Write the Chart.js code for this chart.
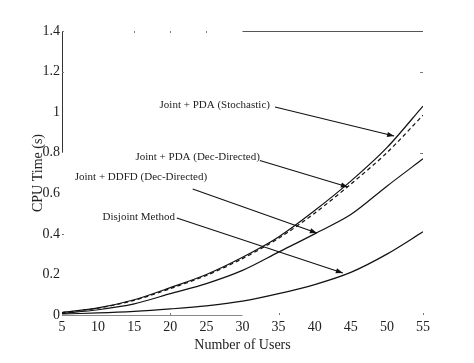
<!DOCTYPE html>
<html>
<head>
<meta charset="utf-8">
<script src="https://cdn.jsdelivr.net/npm/chart.js@4"></script>
<style>
html,body{margin:0;padding:0;background:#fff;}
#wrap{width:474px;height:363px;}
</style>
</head>
<body>
<div id="wrap"><canvas id="c" width="474" height="363"></canvas></div>
<script>
// ---- data ----
const users = [5, 10, 15, 20, 25, 30, 35, 40, 45, 50, 55];
const jointPdaStochastic = [0.012, 0.035, 0.075, 0.135, 0.200, 0.285, 0.385, 0.515, 0.660, 0.825, 1.030];
const jointPdaDecDirected = [0.012, 0.034, 0.072, 0.130, 0.195, 0.278, 0.378, 0.502, 0.645, 0.800, 0.985];
const jointDdfdDecDirected = [0.008, 0.026, 0.055, 0.105, 0.155, 0.220, 0.310, 0.400, 0.495, 0.635, 0.770];
const disjointMethod = [0.005, 0.010, 0.018, 0.030, 0.045, 0.068, 0.105, 0.150, 0.210, 0.300, 0.410];
const xTicks = [5, 10, 15, 20, 25, 30, 35, 40, 45, 50, 55];
const yTicks = [0, 0.2, 0.4, 0.6, 0.8, 1, 1.2, 1.4];
const seriesNames = ['Joint + PDA (Stochastic)', 'Joint + PDA (Dec-Directed)', 'Joint + DDFD (Dec-Directed)', 'Disjoint Method'];

const pts = arr => users.map((u, i) => ({x: u, y: arr[i]}));
const FONT = "'Liberation Serif', 'DejaVu Serif', serif";

// annotation layout (text anchor right edge + arrow start/tip in data coordinates)
const notes = [
  {text: seriesNames[0], tx: 33.8, ty: 1.035, ax: 34.5, ay: 1.025, bx: 51.0, by: 0.882},
  {text: seriesNames[1], tx: 32.4, ty: 0.779, ax: 32.4, ay: 0.762, bx: 44.6, by: 0.631},
  {text: seriesNames[2], tx: 25.1, ty: 0.680, ax: 23.1, ay: 0.621, bx: 40.3, by: 0.404},
  {text: seriesNames[3], tx: 20.65, ty: 0.483, ax: 20.9, ay: 0.478, bx: 43.9, by: 0.207}
];

const decor = {
  id: 'decor',
  afterDatasetsDraw(chart) {
    const {ctx, scales: {x, y}} = chart;
    ctx.save();
    // partial axis lines like the reference
    ctx.lineWidth = 1;
    ctx.strokeStyle = '#333';
    ctx.beginPath();
    ctx.moveTo(x.getPixelForValue(5) + 0.5, y.getPixelForValue(1.4));
    ctx.lineTo(x.getPixelForValue(5) + 0.5, y.getPixelForValue(0.8));
    ctx.stroke();
    ctx.strokeStyle = '#888';
    ctx.beginPath();
    ctx.moveTo(x.getPixelForValue(5), Math.round(y.getPixelForValue(0)) + 0.5);
    ctx.lineTo(x.getPixelForValue(30), Math.round(y.getPixelForValue(0)) + 0.5);
    ctx.stroke();
    ctx.strokeStyle = '#555';
    ctx.beginPath();
    ctx.moveTo(x.getPixelForValue(30), Math.round(y.getPixelForValue(1.4)) + 0.5);
    ctx.lineTo(x.getPixelForValue(55), Math.round(y.getPixelForValue(1.4)) + 0.5);
    ctx.stroke();
    // faint tick marks
    ctx.strokeStyle = '#777';
    [1.2, 0.8].forEach(v => {
      const py = Math.round(y.getPixelForValue(v)) + 0.5;
      const px = x.getPixelForValue(55);
      ctx.beginPath(); ctx.moveTo(px - 3, py); ctx.lineTo(px, py); ctx.stroke();
    });
    [1.4, 1.2, 0.4].forEach(v => {
      const py = Math.round(y.getPixelForValue(v)) + 0.5;
      const px = x.getPixelForValue(5);
      ctx.beginPath(); ctx.moveTo(px, py); ctx.lineTo(px + 2, py); ctx.stroke();
    });
    [15, 20, 25].forEach(v => {
      const px = Math.round(x.getPixelForValue(v)) + 0.5;
      const py = y.getPixelForValue(1.4);
      ctx.beginPath(); ctx.moveTo(px, py); ctx.lineTo(px, py + 2); ctx.stroke();
    });
    [20, 35, 55].forEach(v => {
      const px = Math.round(x.getPixelForValue(v)) + 0.5;
      const py = y.getPixelForValue(0);
      ctx.beginPath(); ctx.moveTo(px, py); ctx.lineTo(px, py - 2); ctx.stroke();
    });
    // annotations
    ctx.font = "11px " + FONT;
    ctx.fillStyle = '#222';
    ctx.textAlign = 'right';
    ctx.textBaseline = 'middle';
    ctx.strokeStyle = '#111';
    ctx.lineWidth = 1.1;
    notes.forEach(n => {
      ctx.fillText(n.text, x.getPixelForValue(n.tx), y.getPixelForValue(n.ty));
      const x0 = x.getPixelForValue(n.ax), y0 = y.getPixelForValue(n.ay);
      const x1 = x.getPixelForValue(n.bx), y1 = y.getPixelForValue(n.by);
      ctx.beginPath(); ctx.moveTo(x0, y0); ctx.lineTo(x1, y1); ctx.stroke();
      const ang = Math.atan2(y1 - y0, x1 - x0), L = 7, W = 2.6;
      ctx.beginPath();
      ctx.moveTo(x1, y1);
      ctx.lineTo(x1 - L * Math.cos(ang) + W * Math.sin(ang), y1 - L * Math.sin(ang) - W * Math.cos(ang));
      ctx.lineTo(x1 - L * Math.cos(ang) - W * Math.sin(ang), y1 - L * Math.sin(ang) + W * Math.cos(ang));
      ctx.closePath();
      ctx.fillStyle = '#111';
      ctx.fill();
      ctx.fillStyle = '#222';
    });
    ctx.restore();
  }
};

const line = (label, arr, dash) => ({
  label, data: pts(arr), borderColor: '#111', borderWidth: 1.2,
  borderDash: dash, pointRadius: 0, fill: false, tension: 0.3
});

new Chart(document.getElementById('c'), {
  type: 'line',
  data: {
    datasets: [
      line(seriesNames[0], jointPdaStochastic, []),
      line(seriesNames[1], jointPdaDecDirected, [4, 3]),
      line(seriesNames[2], jointDdfdDecDirected, []),
      line(seriesNames[3], disjointMethod, [])
    ]
  },
  options: {
    responsive: false,
    animation: false,
    layout: {padding: {left: 0, right: 51, top: 31, bottom: 0}},
    plugins: {legend: {display: false}, tooltip: {enabled: false}},
    scales: {
      x: {
        type: 'linear', min: 5, max: 55,
        afterBuildTicks: s => { s.ticks = xTicks.map(v => ({value: v})); },
        afterFit: s => { s.height = 48; },
        grid: {display: false, drawTicks: false},
        border: {display: false},
        ticks: {padding: 4, color: '#222', font: {family: FONT, size: 14}, maxRotation: 0, autoSkip: false},
        title: {display: true, text: 'Number of Users', color: '#222', font: {family: FONT, size: 14}, padding: {top: 0, bottom: 9}}
      },
      y: {
        type: 'linear', min: 0, max: 1.4,
        afterBuildTicks: s => { s.ticks = yTicks.map(v => ({value: v})); },
        afterFit: s => { s.width = 62; },
        grid: {display: false, drawTicks: false},
        border: {display: false},
        ticks: {padding: 2, color: '#222', font: {family: FONT, size: 14}, autoSkip: false,
          callback: v => String(Math.round(v * 10) / 10)},
        title: {display: true, text: 'CPU Time (s)', color: '#222', font: {family: FONT, size: 14}, padding: {top: 30, bottom: 0}}
      }
    }
  },
  plugins: [decor]
});
</script>
</body>
</html>
